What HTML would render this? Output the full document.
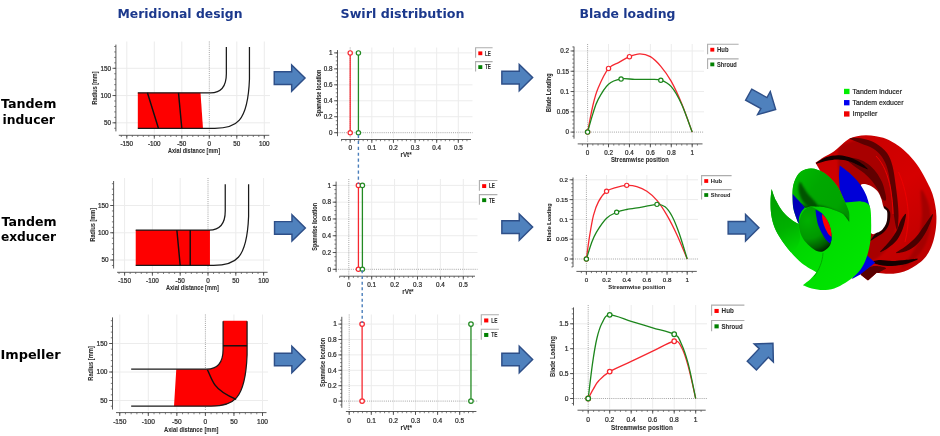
<!DOCTYPE html>
<html lang="en"><head><meta charset="utf-8"><title>Tandem blade design workflow</title>
<style>html,body{margin:0;padding:0;background:#fff}body{width:940px;height:436px;overflow:hidden;position:relative}svg{filter:blur(.35px);position:absolute;left:0;top:0;display:block}text{white-space:pre;font-family:"Liberation Sans","DejaVu Sans",sans-serif;font-size:6.3px;fill:#2b2b2b;text-anchor:middle;stroke:#2b2b2b;stroke-width:.22px}text.h{stroke:none;font-family:"DejaVu Sans","Liberation Sans",sans-serif;font-weight:bold}text.b{font-weight:bold;stroke-width:.05px}text.e{text-anchor:end}text.s{text-anchor:start}</style>
</head><body>
<svg width="940" height="436" viewBox="0 0 940 436">
<rect width="940" height="436" fill="#fff"/>
<text x="180" y="18.4" class="h" style="font-size:12.6px;fill:#1b388c" textLength="125" lengthAdjust="spacingAndGlyphs">Meridional design</text>
<text x="402.5" y="18.4" class="h" style="font-size:12.6px;fill:#1b388c" textLength="124" lengthAdjust="spacingAndGlyphs">Swirl distribution</text>
<text x="627.5" y="18.4" class="h" style="font-size:12.6px;fill:#1b388c" textLength="96" lengthAdjust="spacingAndGlyphs">Blade loading</text>
<text x="28.7" y="108.1" class="h" style="font-size:12.6px;fill:#000" textLength="55.5" lengthAdjust="spacingAndGlyphs">Tandem</text>
<text x="28.7" y="123.5" class="h" style="font-size:12.6px;fill:#000" textLength="52.4" lengthAdjust="spacingAndGlyphs">inducer</text>
<text x="29" y="225.7" class="h" style="font-size:12.6px;fill:#000" textLength="55" lengthAdjust="spacingAndGlyphs">Tandem</text>
<text x="28.5" y="241" class="h" style="font-size:12.6px;fill:#000" textLength="55.1" lengthAdjust="spacingAndGlyphs">exducer</text>
<text x="30.5" y="358.5" class="h" style="font-size:12.6px;fill:#000" textLength="60" lengthAdjust="spacingAndGlyphs">Impeller</text>
<path d="M126.8 41.5 V133.8 M154.3 41.5 V133.8 M181.8 41.5 V133.8 M236.8 41.5 V133.8 M264.3 41.5 V133.8 M115.9 122.8 H270 M115.9 95.55 H270 M115.9 68.3 H270" stroke="#ececec" stroke-width="1" fill="none"/>
<path d="M209.3 41.5 V133.8" stroke="#a4a4a4" stroke-width="1" stroke-dasharray="1 1.1" fill="none"/>
<path d="M115.9 44.6 V131.4 M118.8 135.3 H269.3 M126.8 135.3 v3.4 M154.3 135.3 v3.4 M181.8 135.3 v3.4 M209.3 135.3 v3.4 M236.8 135.3 v3.4 M264.3 135.3 v3.4 M115.9 122.8 h-3.4 M115.9 95.55 h-3.4 M115.9 68.3 h-3.4" stroke="#484848" stroke-width="0.9" fill="none"/>
<path d="M121.3 135.3 v1.7 M126.8 135.3 v1.7 M132.3 135.3 v1.7 M137.8 135.3 v1.7 M143.3 135.3 v1.7 M148.8 135.3 v1.7 M154.3 135.3 v1.7 M159.8 135.3 v1.7 M165.3 135.3 v1.7 M170.8 135.3 v1.7 M176.3 135.3 v1.7 M181.8 135.3 v1.7 M187.3 135.3 v1.7 M192.8 135.3 v1.7 M198.3 135.3 v1.7 M203.8 135.3 v1.7 M209.3 135.3 v1.7 M214.8 135.3 v1.7 M220.3 135.3 v1.7 M225.8 135.3 v1.7 M231.3 135.3 v1.7 M236.8 135.3 v1.7 M242.3 135.3 v1.7 M247.8 135.3 v1.7 M253.3 135.3 v1.7 M258.8 135.3 v1.7 M264.3 135.3 v1.7 M115.9 46.5 h-1.7 M115.9 51.95 h-1.7 M115.9 57.4 h-1.7 M115.9 62.85 h-1.7 M115.9 68.3 h-1.7 M115.9 73.75 h-1.7 M115.9 79.2 h-1.7 M115.9 84.65 h-1.7 M115.9 90.1 h-1.7 M115.9 95.55 h-1.7 M115.9 101 h-1.7 M115.9 106.45 h-1.7 M115.9 111.9 h-1.7 M115.9 117.35 h-1.7 M115.9 122.8 h-1.7 M115.9 128.25 h-1.7" stroke="#484848" stroke-width="0.7" fill="none"/>
<text x="126.8" y="146.2">-150</text>
<text x="154.3" y="146.2">-100</text>
<text x="181.8" y="146.2">-50</text>
<text x="209.3" y="146.2">0</text>
<text x="236.8" y="146.2">50</text>
<text x="264.3" y="146.2">100</text>
<text x="110.9" y="125.07" class="e">50</text>
<text x="110.9" y="97.82" class="e">100</text>
<text x="110.9" y="70.57" class="e">150</text>
<text x="194.05" y="153.2" class="b" textLength="52" lengthAdjust="spacingAndGlyphs">Axial distance [mm]</text>
<text x="97.3" y="88" class="b" transform="rotate(-90 97.3 88)" textLength="33" lengthAdjust="spacingAndGlyphs">Radius [mm]</text>
<path d="M137.8 92.82 L200.5 92.82 L202.98 128.25 L137.8 128.25Z" fill="#fe0000"/>
<path d="M137.8 128.25 L214.8 128.25 C235.7 128.25 247.8 122.8 249.45 79.2 L249.45 47.04 M137.8 92.82 L210.4 92.82 C221.4 92.82 226.35 86.83 226.35 73.75 L226.35 47.04" stroke="#1a1a1a" stroke-width="1.25" fill="none"/>
<path d="M147.43 92.82 L158.43 128.25 M178.5 92.82 L181.8 128.25" stroke="#111" stroke-width="1.45" fill="none"/>
<path d="M124.6 178 V270.8 M152.4 178 V270.8 M180.2 178 V270.8 M235.8 178 V270.8 M263.6 178 V270.8 M113.6 260 H270 M113.6 232.75 H270 M113.6 205.5 H270" stroke="#ececec" stroke-width="1" fill="none"/>
<path d="M208 178 V270.8" stroke="#a4a4a4" stroke-width="1" stroke-dasharray="1 1.1" fill="none"/>
<path d="M113.6 181 V268.5 M117.1 272.3 H267.6 M124.6 272.3 v3.4 M152.4 272.3 v3.4 M180.2 272.3 v3.4 M208 272.3 v3.4 M235.8 272.3 v3.4 M263.6 272.3 v3.4 M113.6 260 h-3.4 M113.6 232.75 h-3.4 M113.6 205.5 h-3.4" stroke="#484848" stroke-width="0.9" fill="none"/>
<path d="M119.04 272.3 v1.7 M124.6 272.3 v1.7 M130.16 272.3 v1.7 M135.72 272.3 v1.7 M141.28 272.3 v1.7 M146.84 272.3 v1.7 M152.4 272.3 v1.7 M157.96 272.3 v1.7 M163.52 272.3 v1.7 M169.08 272.3 v1.7 M174.64 272.3 v1.7 M180.2 272.3 v1.7 M185.76 272.3 v1.7 M191.32 272.3 v1.7 M196.88 272.3 v1.7 M202.44 272.3 v1.7 M208 272.3 v1.7 M213.56 272.3 v1.7 M219.12 272.3 v1.7 M224.68 272.3 v1.7 M230.24 272.3 v1.7 M235.8 272.3 v1.7 M241.36 272.3 v1.7 M246.92 272.3 v1.7 M252.48 272.3 v1.7 M258.04 272.3 v1.7 M263.6 272.3 v1.7 M113.6 183.7 h-1.7 M113.6 189.15 h-1.7 M113.6 194.6 h-1.7 M113.6 200.05 h-1.7 M113.6 205.5 h-1.7 M113.6 210.95 h-1.7 M113.6 216.4 h-1.7 M113.6 221.85 h-1.7 M113.6 227.3 h-1.7 M113.6 232.75 h-1.7 M113.6 238.2 h-1.7 M113.6 243.65 h-1.7 M113.6 249.1 h-1.7 M113.6 254.55 h-1.7 M113.6 260 h-1.7 M113.6 265.45 h-1.7" stroke="#484848" stroke-width="0.7" fill="none"/>
<text x="124.6" y="283.2" style="font-size:6.4px">-150</text>
<text x="152.4" y="283.2" style="font-size:6.4px">-100</text>
<text x="180.2" y="283.2" style="font-size:6.4px">-50</text>
<text x="208" y="283.2" style="font-size:6.4px">0</text>
<text x="235.8" y="283.2" style="font-size:6.4px">50</text>
<text x="263.6" y="283.2" style="font-size:6.4px">100</text>
<text x="108.6" y="262.3" class="e" style="font-size:6.4px">50</text>
<text x="108.6" y="235.05" class="e" style="font-size:6.4px">100</text>
<text x="108.6" y="207.8" class="e" style="font-size:6.4px">150</text>
<text x="192.35" y="290.4" class="b" style="font-size:6.4px" textLength="52.83" lengthAdjust="spacingAndGlyphs">Axial distance [mm]</text>
<text x="95" y="224.75" class="b" style="font-size:6.4px" transform="rotate(-90 95 224.75)" textLength="33.52" lengthAdjust="spacingAndGlyphs">Radius [mm]</text>
<path d="M135.72 230.03 L209.95 230.03 L209.95 265.45 L135.72 265.45Z" fill="#fe0000"/>
<path d="M135.72 265.45 L213.56 265.45 C234.69 265.45 246.92 260 248.59 216.4 L248.59 184.25 M135.72 230.03 L209.11 230.03 C220.23 230.03 225.24 224.03 225.24 210.95 L225.24 184.25" stroke="#1a1a1a" stroke-width="1.25" fill="none"/>
<path d="M176.86 230.03 L180.2 265.45 M190.21 230.03 L190.21 265.45" stroke="#111" stroke-width="1.45" fill="none"/>
<path d="M119.75 314.5 V411.1 M148.3 314.5 V411.1 M176.85 314.5 V411.1 M233.95 314.5 V411.1 M262.5 314.5 V411.1 M112.5 400.5 H268 M112.5 372 H268 M112.5 343.5 H268" stroke="#ececec" stroke-width="1" fill="none"/>
<path d="M205.4 314.5 V411.1" stroke="#a4a4a4" stroke-width="1" stroke-dasharray="1 1.1" fill="none"/>
<path d="M112.5 317.4 V409.5 M116 412.6 H266.5 M119.75 412.6 v3.4 M148.3 412.6 v3.4 M176.85 412.6 v3.4 M205.4 412.6 v3.4 M233.95 412.6 v3.4 M262.5 412.6 v3.4 M112.5 400.5 h-3.4 M112.5 372 h-3.4 M112.5 343.5 h-3.4" stroke="#484848" stroke-width="0.9" fill="none"/>
<path d="M119.75 412.6 v1.7 M125.46 412.6 v1.7 M131.17 412.6 v1.7 M136.88 412.6 v1.7 M142.59 412.6 v1.7 M148.3 412.6 v1.7 M154.01 412.6 v1.7 M159.72 412.6 v1.7 M165.43 412.6 v1.7 M171.14 412.6 v1.7 M176.85 412.6 v1.7 M182.56 412.6 v1.7 M188.27 412.6 v1.7 M193.98 412.6 v1.7 M199.69 412.6 v1.7 M205.4 412.6 v1.7 M211.11 412.6 v1.7 M216.82 412.6 v1.7 M222.53 412.6 v1.7 M228.24 412.6 v1.7 M233.95 412.6 v1.7 M239.66 412.6 v1.7 M245.37 412.6 v1.7 M251.08 412.6 v1.7 M256.79 412.6 v1.7 M262.5 412.6 v1.7 M112.5 320.7 h-1.7 M112.5 326.4 h-1.7 M112.5 332.1 h-1.7 M112.5 337.8 h-1.7 M112.5 343.5 h-1.7 M112.5 349.2 h-1.7 M112.5 354.9 h-1.7 M112.5 360.6 h-1.7 M112.5 366.3 h-1.7 M112.5 372 h-1.7 M112.5 377.7 h-1.7 M112.5 383.4 h-1.7 M112.5 389.1 h-1.7 M112.5 394.8 h-1.7 M112.5 400.5 h-1.7 M112.5 406.2 h-1.7" stroke="#484848" stroke-width="0.7" fill="none"/>
<text x="119.75" y="423.6" style="font-size:6.6px">-150</text>
<text x="148.3" y="423.6" style="font-size:6.6px">-100</text>
<text x="176.85" y="423.6" style="font-size:6.6px">-50</text>
<text x="205.4" y="423.6" style="font-size:6.6px">0</text>
<text x="233.95" y="423.6" style="font-size:6.6px">50</text>
<text x="262.5" y="423.6" style="font-size:6.6px">100</text>
<text x="107.5" y="402.88" class="e" style="font-size:6.6px">50</text>
<text x="107.5" y="374.38" class="e" style="font-size:6.6px">100</text>
<text x="107.5" y="345.88" class="e" style="font-size:6.6px">150</text>
<text x="191.25" y="431.8" class="b" style="font-size:6.6px" textLength="54.48" lengthAdjust="spacingAndGlyphs">Axial distance [mm]</text>
<text x="93" y="363.45" class="b" style="font-size:6.6px" transform="rotate(-90 93 363.45)" textLength="34.57" lengthAdjust="spacingAndGlyphs">Radius [mm]</text>
<path d="M176.28 369.15 L206.54 369.15 C217.96 369.15 223.1 362.88 223.1 349.2 L223.1 320.7 L247.08 320.7 L247.08 354.9 C245.37 400.5 232.81 406.2 211.11 406.2 L174 406.2Z" fill="#fe0000"/>
<path d="M131.17 406.2 L211.11 406.2 C232.81 406.2 245.37 400.5 247.08 354.9 L247.08 321.27 M131.17 369.15 L206.54 369.15 C217.96 369.15 223.1 362.88 223.1 349.2 L223.1 321.27" stroke="#1a1a1a" stroke-width="1.25" fill="none"/>
<path d="M223.1 345.78 H247.08" stroke="#111" stroke-width="1.45" fill="none"/>
<path d="M207.4 369.72 C209.97 374.85 211.68 380.55 215.11 385.11 C219.68 391.38 228.24 395.94 236.23 399.36" stroke="#111" stroke-width="1.45" fill="none"/>
<path d="M371.82 47.5 V138 M393.44 47.5 V138 M415.06 47.5 V138 M436.68 47.5 V138 M458.3 47.5 V138 M337.5 116.74 H472.5 M337.5 100.78 H472.5 M337.5 84.82 H472.5 M337.5 68.86 H472.5 M337.5 52.9 H472.5" stroke="#ececec" stroke-width="1" fill="none"/>
<path d="M350.2 47.5 V138 M337.5 132.7 H472.5" stroke="#a4a4a4" stroke-width="1" stroke-dasharray="1 1.1" fill="none"/>
<path d="M337.5 50.1 V136.2 M341.1 139.5 H471 M350.2 139.5 v3.4 M371.82 139.5 v3.4 M393.44 139.5 v3.4 M415.06 139.5 v3.4 M436.68 139.5 v3.4 M458.3 139.5 v3.4 M337.5 132.7 h-3.4 M337.5 116.74 h-3.4 M337.5 100.78 h-3.4 M337.5 84.82 h-3.4 M337.5 68.86 h-3.4 M337.5 52.9 h-3.4" stroke="#484848" stroke-width="0.9" fill="none"/>
<path d="M341.55 139.5 v1.7 M345.88 139.5 v1.7 M350.2 139.5 v1.7 M354.52 139.5 v1.7 M358.85 139.5 v1.7 M363.17 139.5 v1.7 M367.5 139.5 v1.7 M371.82 139.5 v1.7 M376.14 139.5 v1.7 M380.47 139.5 v1.7 M384.79 139.5 v1.7 M389.12 139.5 v1.7 M393.44 139.5 v1.7 M397.76 139.5 v1.7 M402.09 139.5 v1.7 M406.41 139.5 v1.7 M410.74 139.5 v1.7 M415.06 139.5 v1.7 M419.38 139.5 v1.7 M423.71 139.5 v1.7 M428.03 139.5 v1.7 M432.36 139.5 v1.7 M436.68 139.5 v1.7 M441 139.5 v1.7 M445.33 139.5 v1.7 M449.65 139.5 v1.7 M453.98 139.5 v1.7 M458.3 139.5 v1.7 M462.62 139.5 v1.7 M466.95 139.5 v1.7 M337.5 52.9 h-1.7 M337.5 56.89 h-1.7 M337.5 60.88 h-1.7 M337.5 64.87 h-1.7 M337.5 68.86 h-1.7 M337.5 72.85 h-1.7 M337.5 76.84 h-1.7 M337.5 80.83 h-1.7 M337.5 84.82 h-1.7 M337.5 88.81 h-1.7 M337.5 92.8 h-1.7 M337.5 96.79 h-1.7 M337.5 100.78 h-1.7 M337.5 104.77 h-1.7 M337.5 108.76 h-1.7 M337.5 112.75 h-1.7 M337.5 116.74 h-1.7 M337.5 120.73 h-1.7 M337.5 124.72 h-1.7 M337.5 128.71 h-1.7 M337.5 132.7 h-1.7" stroke="#484848" stroke-width="0.7" fill="none"/>
<text x="350.2" y="150.2">0</text>
<text x="371.82" y="150.2">0.1</text>
<text x="393.44" y="150.2">0.2</text>
<text x="415.06" y="150.2">0.3</text>
<text x="436.68" y="150.2">0.4</text>
<text x="458.3" y="150.2">0.5</text>
<text x="332.5" y="134.97" class="e">0</text>
<text x="332.5" y="119.01" class="e">0.2</text>
<text x="332.5" y="103.05" class="e">0.4</text>
<text x="332.5" y="87.09" class="e">0.6</text>
<text x="332.5" y="71.13" class="e">0.8</text>
<text x="332.5" y="55.17" class="e">1</text>
<text x="406.05" y="156.6" class="b">rVt*</text>
<text x="320.8" y="93.15" class="b" transform="rotate(-90 320.8 93.15)" textLength="47" lengthAdjust="spacingAndGlyphs">Spanwise location</text>
<path d="M350.2 132.7 V52.9" stroke="#f62830" stroke-width="1.3" fill="none"/>
<circle cx="350.2" cy="132.7" r="2.15" fill="#fff" stroke="#f62830" stroke-width="1.2"/>
<circle cx="350.2" cy="52.9" r="2.15" fill="#fff" stroke="#f62830" stroke-width="1.2"/>
<path d="M358.42 132.7 V52.9" stroke="#238a23" stroke-width="1.3" fill="none"/>
<circle cx="358.42" cy="132.7" r="2.15" fill="#fff" stroke="#238a23" stroke-width="1.2"/>
<circle cx="358.42" cy="52.9" r="2.15" fill="#fff" stroke="#238a23" stroke-width="1.2"/>
<path d="M475.6 57.8 V47.8 H492.6" stroke="#adadad" stroke-width="1.1" fill="none"/>
<rect x="478.3" y="51.4" width="4" height="3.8" fill="#ff0000"/>
<text x="485" y="55.6" class="b s" textLength="6" lengthAdjust="spacingAndGlyphs">LE</text>
<path d="M475.6 71.6 V61.6 H492.6" stroke="#adadad" stroke-width="1.1" fill="none"/>
<rect x="478.3" y="65.2" width="4" height="3.8" fill="#008000"/>
<text x="485" y="69.4" class="b s" textLength="6" lengthAdjust="spacingAndGlyphs">TE</text>
<path d="M371.7 179 V274.7 M394.6 179 V274.7 M417.5 179 V274.7 M440.4 179 V274.7 M463.3 179 V274.7 M336.1 252.52 H477.5 M336.1 235.74 H477.5 M336.1 218.96 H477.5 M336.1 202.18 H477.5 M336.1 185.4 H477.5" stroke="#ececec" stroke-width="1" fill="none"/>
<path d="M348.8 179 V274.7 M336.1 269.3 H477.5" stroke="#a4a4a4" stroke-width="1" stroke-dasharray="1 1.1" fill="none"/>
<path d="M336.1 181.6 V272.1 M339.5 276.2 H475 M348.8 276.2 v3.4 M371.7 276.2 v3.4 M394.6 276.2 v3.4 M417.5 276.2 v3.4 M440.4 276.2 v3.4 M463.3 276.2 v3.4 M336.1 269.3 h-3.4 M336.1 252.52 h-3.4 M336.1 235.74 h-3.4 M336.1 218.96 h-3.4 M336.1 202.18 h-3.4 M336.1 185.4 h-3.4" stroke="#484848" stroke-width="0.9" fill="none"/>
<path d="M339.64 276.2 v1.7 M344.22 276.2 v1.7 M348.8 276.2 v1.7 M353.38 276.2 v1.7 M357.96 276.2 v1.7 M362.54 276.2 v1.7 M367.12 276.2 v1.7 M371.7 276.2 v1.7 M376.28 276.2 v1.7 M380.86 276.2 v1.7 M385.44 276.2 v1.7 M390.02 276.2 v1.7 M394.6 276.2 v1.7 M399.18 276.2 v1.7 M403.76 276.2 v1.7 M408.34 276.2 v1.7 M412.92 276.2 v1.7 M417.5 276.2 v1.7 M422.08 276.2 v1.7 M426.66 276.2 v1.7 M431.24 276.2 v1.7 M435.82 276.2 v1.7 M440.4 276.2 v1.7 M444.98 276.2 v1.7 M449.56 276.2 v1.7 M454.14 276.2 v1.7 M458.72 276.2 v1.7 M463.3 276.2 v1.7 M467.88 276.2 v1.7 M472.46 276.2 v1.7 M336.1 185.4 h-1.7 M336.1 189.6 h-1.7 M336.1 193.79 h-1.7 M336.1 197.99 h-1.7 M336.1 202.18 h-1.7 M336.1 206.38 h-1.7 M336.1 210.57 h-1.7 M336.1 214.77 h-1.7 M336.1 218.96 h-1.7 M336.1 223.16 h-1.7 M336.1 227.35 h-1.7 M336.1 231.55 h-1.7 M336.1 235.74 h-1.7 M336.1 239.94 h-1.7 M336.1 244.13 h-1.7 M336.1 248.33 h-1.7 M336.1 252.52 h-1.7 M336.1 256.72 h-1.7 M336.1 260.91 h-1.7 M336.1 265.11 h-1.7 M336.1 269.3 h-1.7" stroke="#484848" stroke-width="0.7" fill="none"/>
<text x="348.8" y="286.6" style="font-size:6.4px">0</text>
<text x="371.7" y="286.6" style="font-size:6.4px">0.1</text>
<text x="394.6" y="286.6" style="font-size:6.4px">0.2</text>
<text x="417.5" y="286.6" style="font-size:6.4px">0.3</text>
<text x="440.4" y="286.6" style="font-size:6.4px">0.4</text>
<text x="463.3" y="286.6" style="font-size:6.4px">0.5</text>
<text x="331.1" y="271.6" class="e" style="font-size:6.4px">0</text>
<text x="331.1" y="254.82" class="e" style="font-size:6.4px">0.2</text>
<text x="331.1" y="238.04" class="e" style="font-size:6.4px">0.4</text>
<text x="331.1" y="221.26" class="e" style="font-size:6.4px">0.6</text>
<text x="331.1" y="204.48" class="e" style="font-size:6.4px">0.8</text>
<text x="331.1" y="187.7" class="e" style="font-size:6.4px">1</text>
<text x="407.85" y="293.7" class="b" style="font-size:6.4px">rVt*</text>
<text x="317.3" y="226.85" class="b" style="font-size:6.4px" transform="rotate(-90 317.3 226.85)" textLength="47.75" lengthAdjust="spacingAndGlyphs">Spanwise location</text>
<path d="M358.42 269.3 V185.4" stroke="#f62830" stroke-width="1.3" fill="none"/>
<circle cx="358.42" cy="269.3" r="2.18" fill="#fff" stroke="#f62830" stroke-width="1.22"/>
<circle cx="358.42" cy="185.4" r="2.18" fill="#fff" stroke="#f62830" stroke-width="1.22"/>
<path d="M362.4 269.3 V185.4" stroke="#238a23" stroke-width="1.3" fill="none"/>
<circle cx="362.4" cy="269.3" r="2.18" fill="#fff" stroke="#238a23" stroke-width="1.22"/>
<circle cx="362.4" cy="185.4" r="2.18" fill="#fff" stroke="#238a23" stroke-width="1.22"/>
<path d="M479.4 190.66 V180.5 H497.4" stroke="#adadad" stroke-width="1.1" fill="none"/>
<rect x="482.14" y="184.16" width="4.06" height="3.86" fill="#ff0000"/>
<text x="488.95" y="188.42" class="b s" style="font-size:6.4px" textLength="6.1" lengthAdjust="spacingAndGlyphs">LE</text>
<path d="M479.4 204.76 V194.6 H497.4" stroke="#adadad" stroke-width="1.1" fill="none"/>
<rect x="482.14" y="198.26" width="4.06" height="3.86" fill="#008000"/>
<text x="488.95" y="202.52" class="b s" style="font-size:6.4px" textLength="6.1" lengthAdjust="spacingAndGlyphs">TE</text>
<path d="M371.3 314.5 V410 M393.4 314.5 V410 M415.5 314.5 V410 M437.6 314.5 V410 M459.7 314.5 V410 M341.8 385.7 H477.5 M341.8 370.3 H477.5 M341.8 354.9 H477.5 M341.8 339.5 H477.5 M341.8 324.1 H477.5" stroke="#ececec" stroke-width="1" fill="none"/>
<path d="M349.2 314.5 V410 M341.8 401.1 H477.5" stroke="#a4a4a4" stroke-width="1" stroke-dasharray="1 1.1" fill="none"/>
<path d="M341.8 316.8 V407.8 M345.9 411.5 H476.4 M349.2 411.5 v3.4 M371.3 411.5 v3.4 M393.4 411.5 v3.4 M415.5 411.5 v3.4 M437.6 411.5 v3.4 M459.7 411.5 v3.4 M341.8 401.1 h-3.4 M341.8 385.7 h-3.4 M341.8 370.3 h-3.4 M341.8 354.9 h-3.4 M341.8 339.5 h-3.4 M341.8 324.1 h-3.4" stroke="#484848" stroke-width="0.9" fill="none"/>
<path d="M349.2 411.5 v1.7 M353.62 411.5 v1.7 M358.04 411.5 v1.7 M362.46 411.5 v1.7 M366.88 411.5 v1.7 M371.3 411.5 v1.7 M375.72 411.5 v1.7 M380.14 411.5 v1.7 M384.56 411.5 v1.7 M388.98 411.5 v1.7 M393.4 411.5 v1.7 M397.82 411.5 v1.7 M402.24 411.5 v1.7 M406.66 411.5 v1.7 M411.08 411.5 v1.7 M415.5 411.5 v1.7 M419.92 411.5 v1.7 M424.34 411.5 v1.7 M428.76 411.5 v1.7 M433.18 411.5 v1.7 M437.6 411.5 v1.7 M442.02 411.5 v1.7 M446.44 411.5 v1.7 M450.86 411.5 v1.7 M455.28 411.5 v1.7 M459.7 411.5 v1.7 M464.12 411.5 v1.7 M468.54 411.5 v1.7 M472.96 411.5 v1.7 M341.8 320.25 h-1.7 M341.8 324.1 h-1.7 M341.8 327.95 h-1.7 M341.8 331.8 h-1.7 M341.8 335.65 h-1.7 M341.8 339.5 h-1.7 M341.8 343.35 h-1.7 M341.8 347.2 h-1.7 M341.8 351.05 h-1.7 M341.8 354.9 h-1.7 M341.8 358.75 h-1.7 M341.8 362.6 h-1.7 M341.8 366.45 h-1.7 M341.8 370.3 h-1.7 M341.8 374.15 h-1.7 M341.8 378 h-1.7 M341.8 381.85 h-1.7 M341.8 385.7 h-1.7 M341.8 389.55 h-1.7 M341.8 393.4 h-1.7 M341.8 397.25 h-1.7 M341.8 401.1 h-1.7 M341.8 404.95 h-1.7" stroke="#484848" stroke-width="0.7" fill="none"/>
<text x="349.2" y="422.6" style="font-size:6.6px">0</text>
<text x="371.3" y="422.6" style="font-size:6.6px">0.1</text>
<text x="393.4" y="422.6" style="font-size:6.6px">0.2</text>
<text x="415.5" y="422.6" style="font-size:6.6px">0.3</text>
<text x="437.6" y="422.6" style="font-size:6.6px">0.4</text>
<text x="459.7" y="422.6" style="font-size:6.6px">0.5</text>
<text x="336.8" y="403.48" class="e" style="font-size:6.6px">0</text>
<text x="336.8" y="388.08" class="e" style="font-size:6.6px">0.2</text>
<text x="336.8" y="372.68" class="e" style="font-size:6.6px">0.4</text>
<text x="336.8" y="357.28" class="e" style="font-size:6.6px">0.6</text>
<text x="336.8" y="341.88" class="e" style="font-size:6.6px">0.8</text>
<text x="336.8" y="326.48" class="e" style="font-size:6.6px">1</text>
<text x="406.25" y="429.8" class="b" style="font-size:6.6px">rVt*</text>
<text x="325.5" y="362.3" class="b" style="font-size:6.6px" transform="rotate(-90 325.5 362.3)" textLength="49.24" lengthAdjust="spacingAndGlyphs">Spanwise location</text>
<path d="M362.11 401.1 V324.1" stroke="#f62830" stroke-width="1.3" fill="none"/>
<circle cx="362.11" cy="401.1" r="2.25" fill="#fff" stroke="#f62830" stroke-width="1.26"/>
<circle cx="362.11" cy="324.1" r="2.25" fill="#fff" stroke="#f62830" stroke-width="1.26"/>
<path d="M470.97 401.1 V324.1" stroke="#238a23" stroke-width="1.3" fill="none"/>
<circle cx="470.97" cy="401.1" r="2.25" fill="#fff" stroke="#238a23" stroke-width="1.26"/>
<circle cx="470.97" cy="324.1" r="2.25" fill="#fff" stroke="#238a23" stroke-width="1.26"/>
<path d="M481.3 325.18 V314.7 H498.9" stroke="#adadad" stroke-width="1.1" fill="none"/>
<rect x="484.13" y="318.47" width="4.19" height="3.98" fill="#ff0000"/>
<text x="491.15" y="322.87" class="b s" style="font-size:6.6px" textLength="6.29" lengthAdjust="spacingAndGlyphs">LE</text>
<path d="M481.3 339.68 V329.2 H498.9" stroke="#adadad" stroke-width="1.1" fill="none"/>
<rect x="484.13" y="332.97" width="4.19" height="3.98" fill="#008000"/>
<text x="491.15" y="337.37" class="b s" style="font-size:6.6px" textLength="6.29" lengthAdjust="spacingAndGlyphs">TE</text>
<path d="M358.4 134.8 V184" stroke="#4a7ebb" stroke-width="1.4" stroke-dasharray="3.2 2.75" fill="none"/>
<path d="M362.2 270.3 V323" stroke="#4a7ebb" stroke-width="1.4" stroke-dasharray="3 2.67" fill="none"/>
<path d="M608.52 44 V142.4 M629.44 44 V142.4 M650.36 44 V142.4 M671.28 44 V142.4 M692.2 44 V142.4 M574 111.82 H704 M574 91.54 H704 M574 71.26 H704 M574 50.98 H704" stroke="#ececec" stroke-width="1" fill="none"/>
<path d="M587.6 44 V142.4 M574 132.1 H704" stroke="#a4a4a4" stroke-width="1" stroke-dasharray="1 1.1" fill="none"/>
<path d="M574 46.6 V138.7 M577.7 143.9 H702.5 M587.6 143.9 v3.4 M608.52 143.9 v3.4 M629.44 143.9 v3.4 M650.36 143.9 v3.4 M671.28 143.9 v3.4 M692.2 143.9 v3.4 M574 132.1 h-3.4 M574 111.82 h-3.4 M574 91.54 h-3.4 M574 71.26 h-3.4 M574 50.98 h-3.4" stroke="#484848" stroke-width="0.9" fill="none"/>
<path d="M582.37 143.9 v1.7 M587.6 143.9 v1.7 M592.83 143.9 v1.7 M598.06 143.9 v1.7 M603.29 143.9 v1.7 M608.52 143.9 v1.7 M613.75 143.9 v1.7 M618.98 143.9 v1.7 M624.21 143.9 v1.7 M629.44 143.9 v1.7 M634.67 143.9 v1.7 M639.9 143.9 v1.7 M645.13 143.9 v1.7 M650.36 143.9 v1.7 M655.59 143.9 v1.7 M660.82 143.9 v1.7 M666.05 143.9 v1.7 M671.28 143.9 v1.7 M676.51 143.9 v1.7 M681.74 143.9 v1.7 M686.97 143.9 v1.7 M692.2 143.9 v1.7 M697.43 143.9 v1.7 M574 46.92 h-1.7 M574 50.98 h-1.7 M574 55.04 h-1.7 M574 59.09 h-1.7 M574 63.15 h-1.7 M574 67.2 h-1.7 M574 71.26 h-1.7 M574 75.32 h-1.7 M574 79.37 h-1.7 M574 83.43 h-1.7 M574 87.48 h-1.7 M574 91.54 h-1.7 M574 95.6 h-1.7 M574 99.65 h-1.7 M574 103.71 h-1.7 M574 107.76 h-1.7 M574 111.82 h-1.7 M574 115.88 h-1.7 M574 119.93 h-1.7 M574 123.99 h-1.7 M574 128.04 h-1.7 M574 132.1 h-1.7 M574 136.16 h-1.7" stroke="#484848" stroke-width="0.7" fill="none"/>
<text x="587.6" y="154.5">0</text>
<text x="608.52" y="154.5">0.2</text>
<text x="629.44" y="154.5">0.4</text>
<text x="650.36" y="154.5">0.6</text>
<text x="671.28" y="154.5">0.8</text>
<text x="692.2" y="154.5">1</text>
<text x="569" y="134.37" class="e">0</text>
<text x="569" y="114.09" class="e">0.05</text>
<text x="569" y="93.81" class="e">0.1</text>
<text x="569" y="73.53" class="e">0.15</text>
<text x="569" y="53.25" class="e">0.2</text>
<text x="639.9" y="161.8" class="b" textLength="58" lengthAdjust="spacingAndGlyphs">Streamwise position</text>
<text x="551.5" y="92.65" class="b" transform="rotate(-90 551.5 92.65)" textLength="38.5" lengthAdjust="spacingAndGlyphs">Blade Loading</text>
<path d="M587.6 132.1 C588.47 127.71 591.09 113.04 592.83 105.74 C594.57 98.44 595.45 94.51 598.06 88.3 C600.68 82.08 605.03 72.75 608.52 68.42 C612.01 64.09 615.49 64.3 618.98 62.34 C622.47 60.38 625.95 58.08 629.44 56.66 C632.93 55.24 636.41 53.82 639.9 53.82 C643.39 53.82 646.87 54.56 650.36 56.66 C653.85 58.75 657.33 62.27 660.82 66.39 C664.31 70.52 667.79 75.18 671.28 81.4 C674.77 87.62 678.25 95.26 681.74 103.71 C685.23 112.16 690.46 127.37 692.2 132.1" stroke="#f62830" stroke-width="1.3" fill="none"/>
<path d="M587.6 132.1 C588.47 129.06 591.09 119.26 592.83 113.85 C594.57 108.44 595.45 104.59 598.06 99.65 C600.68 94.72 604.68 87.69 608.52 84.24 C612.36 80.79 616.71 79.78 621.07 78.97 C625.43 78.16 629.79 79.3 634.67 79.37 C639.55 79.44 646 79.24 650.36 79.37 C654.72 79.51 657.33 78.97 660.82 80.18 C664.31 81.4 667.79 82.62 671.28 86.67 C674.77 90.73 678.25 96.95 681.74 104.52 C685.23 112.09 690.46 127.5 692.2 132.1" stroke="#1c861c" stroke-width="1.3" fill="none"/>
<circle cx="587.6" cy="132.1" r="2.15" fill="#fff" stroke="#f62830" stroke-width="1.2"/>
<circle cx="608.52" cy="68.42" r="2.15" fill="#fff" stroke="#f62830" stroke-width="1.2"/>
<circle cx="629.44" cy="56.66" r="2.15" fill="#fff" stroke="#f62830" stroke-width="1.2"/>
<circle cx="587.6" cy="132.1" r="2.15" fill="#fff" stroke="#1c861c" stroke-width="1.2"/>
<circle cx="621.07" cy="78.97" r="2.15" fill="#fff" stroke="#1c861c" stroke-width="1.2"/>
<circle cx="660.82" cy="80.18" r="2.15" fill="#fff" stroke="#1c861c" stroke-width="1.2"/>
<path d="M707.6 54.2 V44.2 H738.6" stroke="#adadad" stroke-width="1.1" fill="none"/>
<rect x="710.3" y="47.8" width="4" height="3.8" fill="#ff0000"/>
<text x="717" y="52" class="b s" textLength="11.5" lengthAdjust="spacingAndGlyphs">Hub</text>
<path d="M707.6 68.9 V58.9 H738.6" stroke="#adadad" stroke-width="1.1" fill="none"/>
<rect x="710.3" y="62.5" width="4" height="3.8" fill="#008000"/>
<text x="717" y="66.7" class="b s" textLength="19.8" lengthAdjust="spacingAndGlyphs">Shroud</text>
<path d="M606.56 175 V269.9 M626.72 175 V269.9 M646.88 175 V269.9 M667.04 175 V269.9 M687.2 175 V269.9 M573 239.2 H698 M573 219.4 H698 M573 199.6 H698 M573 179.8 H698" stroke="#ececec" stroke-width="1" fill="none"/>
<path d="M586.4 175 V269.9 M573 259 H698" stroke="#a4a4a4" stroke-width="1" stroke-dasharray="1 1.1" fill="none"/>
<path d="M573 177.5 V267 M576.4 271.4 H696.8 M586.4 271.4 v3.4 M606.56 271.4 v3.4 M626.72 271.4 v3.4 M646.88 271.4 v3.4 M667.04 271.4 v3.4 M687.2 271.4 v3.4 M573 259 h-3.4 M573 239.2 h-3.4 M573 219.4 h-3.4 M573 199.6 h-3.4 M573 179.8 h-3.4" stroke="#484848" stroke-width="0.9" fill="none"/>
<path d="M581.36 271.4 v1.7 M586.4 271.4 v1.7 M591.44 271.4 v1.7 M596.48 271.4 v1.7 M601.52 271.4 v1.7 M606.56 271.4 v1.7 M611.6 271.4 v1.7 M616.64 271.4 v1.7 M621.68 271.4 v1.7 M626.72 271.4 v1.7 M631.76 271.4 v1.7 M636.8 271.4 v1.7 M641.84 271.4 v1.7 M646.88 271.4 v1.7 M651.92 271.4 v1.7 M656.96 271.4 v1.7 M662 271.4 v1.7 M667.04 271.4 v1.7 M672.08 271.4 v1.7 M677.12 271.4 v1.7 M682.16 271.4 v1.7 M687.2 271.4 v1.7 M692.24 271.4 v1.7 M573 179.8 h-1.7 M573 183.76 h-1.7 M573 187.72 h-1.7 M573 191.68 h-1.7 M573 195.64 h-1.7 M573 199.6 h-1.7 M573 203.56 h-1.7 M573 207.52 h-1.7 M573 211.48 h-1.7 M573 215.44 h-1.7 M573 219.4 h-1.7 M573 223.36 h-1.7 M573 227.32 h-1.7 M573 231.28 h-1.7 M573 235.24 h-1.7 M573 239.2 h-1.7 M573 243.16 h-1.7 M573 247.12 h-1.7 M573 251.08 h-1.7 M573 255.04 h-1.7 M573 259 h-1.7 M573 262.96 h-1.7 M573 266.92 h-1.7" stroke="#484848" stroke-width="0.7" fill="none"/>
<text x="586.4" y="281.6" style="font-size:6.2px">0</text>
<text x="606.56" y="281.6" style="font-size:6.2px">0.2</text>
<text x="626.72" y="281.6" style="font-size:6.2px">0.4</text>
<text x="646.88" y="281.6" style="font-size:6.2px">0.6</text>
<text x="667.04" y="281.6" style="font-size:6.2px">0.8</text>
<text x="687.2" y="281.6" style="font-size:6.2px">1</text>
<text x="568" y="261.23" class="e" style="font-size:6.2px">0</text>
<text x="568" y="241.43" class="e" style="font-size:6.2px">0.05</text>
<text x="568" y="221.63" class="e" style="font-size:6.2px">0.1</text>
<text x="568" y="201.83" class="e" style="font-size:6.2px">0.15</text>
<text x="568" y="182.03" class="e" style="font-size:6.2px">0.2</text>
<text x="636.8" y="288.8" class="b" style="font-size:6.2px" textLength="57.08" lengthAdjust="spacingAndGlyphs">Streamwise position</text>
<text x="550.5" y="222.25" class="b" style="font-size:6.2px" transform="rotate(-90 550.5 222.25)" textLength="37.89" lengthAdjust="spacingAndGlyphs">Blade Loading</text>
<path d="M586.4 259 C586.9 255.37 588.25 244.48 589.42 237.22 C590.6 229.96 591.94 221.38 593.46 215.44 C594.97 209.5 596.31 205.61 598.5 201.58 C600.68 197.55 603.54 193.66 606.56 191.28 C609.58 188.91 613.28 188.31 616.64 187.32 C620 186.33 623.36 185.48 626.72 185.34 C630.08 185.21 633.44 185.54 636.8 186.53 C640.16 187.52 643.52 188.97 646.88 191.28 C650.24 193.59 653.6 196.37 656.96 200.39 C660.32 204.42 663.68 209.63 667.04 215.44 C670.4 221.25 673.76 227.98 677.12 235.24 C680.48 242.5 685.52 255.04 687.2 259" stroke="#f62830" stroke-width="1.3" fill="none"/>
<path d="M586.4 259 C587.24 256.36 589.76 247.65 591.44 243.16 C593.12 238.67 593.96 236.23 596.48 232.07 C599 227.91 603.2 221.51 606.56 218.21 C609.92 214.91 613.28 213.72 616.64 212.27 C620 210.82 622.52 210.36 626.72 209.5 C630.92 208.64 636.8 207.98 641.84 207.12 C646.88 206.27 653.1 204.42 656.96 204.35 C660.82 204.29 662.5 204.75 665.02 206.73 C667.54 208.71 669.73 211.81 672.08 216.23 C674.43 220.65 676.62 226.13 679.14 233.26 C681.66 240.39 685.86 254.71 687.2 259" stroke="#1c861c" stroke-width="1.3" fill="none"/>
<circle cx="586.4" cy="259" r="2.12" fill="#fff" stroke="#f62830" stroke-width="1.18"/>
<circle cx="606.56" cy="191.28" r="2.12" fill="#fff" stroke="#f62830" stroke-width="1.18"/>
<circle cx="626.72" cy="185.34" r="2.12" fill="#fff" stroke="#f62830" stroke-width="1.18"/>
<circle cx="586.4" cy="259" r="2.12" fill="#fff" stroke="#1c861c" stroke-width="1.18"/>
<circle cx="616.64" cy="212.27" r="2.12" fill="#fff" stroke="#1c861c" stroke-width="1.18"/>
<circle cx="656.96" cy="204.35" r="2.12" fill="#fff" stroke="#1c861c" stroke-width="1.18"/>
<path d="M701.6 185.44 V175.6 H731.6" stroke="#adadad" stroke-width="1.1" fill="none"/>
<rect x="704.26" y="179.14" width="3.94" height="3.74" fill="#ff0000"/>
<text x="710.85" y="183.28" class="b s" style="font-size:6.2px" textLength="11.32" lengthAdjust="spacingAndGlyphs">Hub</text>
<path d="M701.6 199.44 V189.6 H731.6" stroke="#adadad" stroke-width="1.1" fill="none"/>
<rect x="704.26" y="193.14" width="3.94" height="3.74" fill="#008000"/>
<text x="710.85" y="197.28" class="b s" style="font-size:6.2px" textLength="19.49" lengthAdjust="spacingAndGlyphs">Shroud</text>
<path d="M609.7 305 V408.7 M631.2 305 V408.7 M652.7 305 V408.7 M674.2 305 V408.7 M695.7 305 V408.7 M573.5 373.6 H707 M573.5 348.7 H707 M573.5 323.8 H707" stroke="#ececec" stroke-width="1" fill="none"/>
<path d="M588.2 305 V408.7 M573.5 398.5 H707" stroke="#a4a4a4" stroke-width="1" stroke-dasharray="1 1.1" fill="none"/>
<path d="M573.5 307.4 V405.5 M577.5 410.2 H705.7 M588.2 410.2 v3.4 M609.7 410.2 v3.4 M631.2 410.2 v3.4 M652.7 410.2 v3.4 M674.2 410.2 v3.4 M695.7 410.2 v3.4 M573.5 398.5 h-3.4 M573.5 373.6 h-3.4 M573.5 348.7 h-3.4 M573.5 323.8 h-3.4" stroke="#484848" stroke-width="0.9" fill="none"/>
<path d="M582.83 410.2 v1.7 M588.2 410.2 v1.7 M593.58 410.2 v1.7 M598.95 410.2 v1.7 M604.33 410.2 v1.7 M609.7 410.2 v1.7 M615.08 410.2 v1.7 M620.45 410.2 v1.7 M625.83 410.2 v1.7 M631.2 410.2 v1.7 M636.58 410.2 v1.7 M641.95 410.2 v1.7 M647.33 410.2 v1.7 M652.7 410.2 v1.7 M658.08 410.2 v1.7 M663.45 410.2 v1.7 M668.83 410.2 v1.7 M674.2 410.2 v1.7 M679.58 410.2 v1.7 M684.95 410.2 v1.7 M690.33 410.2 v1.7 M695.7 410.2 v1.7 M701.08 410.2 v1.7 M573.5 308.86 h-1.7 M573.5 313.84 h-1.7 M573.5 318.82 h-1.7 M573.5 323.8 h-1.7 M573.5 328.78 h-1.7 M573.5 333.76 h-1.7 M573.5 338.74 h-1.7 M573.5 343.72 h-1.7 M573.5 348.7 h-1.7 M573.5 353.68 h-1.7 M573.5 358.66 h-1.7 M573.5 363.64 h-1.7 M573.5 368.62 h-1.7 M573.5 373.6 h-1.7 M573.5 378.58 h-1.7 M573.5 383.56 h-1.7 M573.5 388.54 h-1.7 M573.5 393.52 h-1.7 M573.5 398.5 h-1.7 M573.5 403.48 h-1.7" stroke="#484848" stroke-width="0.7" fill="none"/>
<text x="588.2" y="422.1" style="font-size:6.7px">0</text>
<text x="609.7" y="422.1" style="font-size:6.7px">0.2</text>
<text x="631.2" y="422.1" style="font-size:6.7px">0.4</text>
<text x="652.7" y="422.1" style="font-size:6.7px">0.6</text>
<text x="674.2" y="422.1" style="font-size:6.7px">0.8</text>
<text x="695.7" y="422.1" style="font-size:6.7px">1</text>
<text x="568.5" y="400.91" class="e" style="font-size:6.7px">0</text>
<text x="568.5" y="376.01" class="e" style="font-size:6.7px">0.5</text>
<text x="568.5" y="351.11" class="e" style="font-size:6.7px">1</text>
<text x="568.5" y="326.21" class="e" style="font-size:6.7px">1.5</text>
<text x="641.95" y="430.4" class="b" style="font-size:6.7px" textLength="61.68" lengthAdjust="spacingAndGlyphs">Streamwise position</text>
<text x="555" y="356.45" class="b" style="font-size:6.7px" transform="rotate(-90 555 356.45)" textLength="40.94" lengthAdjust="spacingAndGlyphs">Blade Loading</text>
<path d="M588.2 398.5 C589.1 396.84 591.78 391.53 593.58 388.54 C595.37 385.55 596.26 383.39 598.95 380.57 C601.64 377.75 604.33 374.8 609.7 371.61 C615.08 368.41 624.03 364.8 631.2 361.4 C638.37 358 645.53 354.55 652.7 351.19 C659.87 347.83 669.36 341.81 674.2 341.23 C679.04 340.65 679.4 343.55 681.73 347.7 C684.05 351.85 685.85 357.66 688.18 366.13 C690.5 374.6 694.45 393.11 695.7 398.5" stroke="#f62830" stroke-width="1.3" fill="none"/>
<path d="M588.2 398.5 C588.92 392.69 591.07 373.6 592.5 363.64 C593.93 353.68 595.19 345.55 596.8 338.74 C598.41 331.93 600.03 326.79 602.18 322.8 C604.33 318.82 604.86 315.09 609.7 314.84 C614.54 314.59 624.03 319.15 631.2 321.31 C638.37 323.47 645.53 325.63 652.7 327.78 C659.87 329.94 669.54 331.85 674.2 334.26 C678.86 336.66 678.32 337.33 680.65 342.23 C682.98 347.12 685.67 354.26 688.18 363.64 C690.68 373.02 694.45 392.69 695.7 398.5" stroke="#1c861c" stroke-width="1.3" fill="none"/>
<circle cx="588.2" cy="398.5" r="2.29" fill="#fff" stroke="#f62830" stroke-width="1.28"/>
<circle cx="609.7" cy="371.61" r="2.29" fill="#fff" stroke="#f62830" stroke-width="1.28"/>
<circle cx="674.2" cy="341.23" r="2.29" fill="#fff" stroke="#f62830" stroke-width="1.28"/>
<circle cx="588.2" cy="398.5" r="2.29" fill="#fff" stroke="#1c861c" stroke-width="1.28"/>
<circle cx="609.7" cy="314.84" r="2.29" fill="#fff" stroke="#1c861c" stroke-width="1.28"/>
<circle cx="674.2" cy="334.26" r="2.29" fill="#fff" stroke="#1c861c" stroke-width="1.28"/>
<path d="M711.6 315.73 V305.1 H744.4" stroke="#adadad" stroke-width="1.1" fill="none"/>
<rect x="714.47" y="308.93" width="4.25" height="4.04" fill="#ff0000"/>
<text x="721.6" y="313.4" class="b s" style="font-size:6.7px" textLength="12.23" lengthAdjust="spacingAndGlyphs">Hub</text>
<path d="M711.6 331.13 V320.5 H744.4" stroke="#adadad" stroke-width="1.1" fill="none"/>
<rect x="714.47" y="324.33" width="4.25" height="4.04" fill="#008000"/>
<text x="721.6" y="328.8" class="b s" style="font-size:6.7px" textLength="21.06" lengthAdjust="spacingAndGlyphs">Shroud</text>
<path d="M-15.55 -6.3 L1.85 -6.3 L1.85 -13.2 L15.25 0 L1.85 13.2 L1.85 6.3 L-15.55 6.3Z" transform="translate(289.8 78.1) rotate(0)" fill="#4f81bd" stroke="#2e4f88" stroke-width="1.45" stroke-linejoin="miter"/>
<path d="M-15.55 -6.3 L1.85 -6.3 L1.85 -13.2 L15.25 0 L1.85 13.2 L1.85 6.3 L-15.55 6.3Z" transform="translate(517.4 77.6) rotate(0)" fill="#4f81bd" stroke="#2e4f88" stroke-width="1.45" stroke-linejoin="miter"/>
<path d="M-15.55 -6.3 L1.85 -6.3 L1.85 -13.2 L15.25 0 L1.85 13.2 L1.85 6.3 L-15.55 6.3Z" transform="translate(290.1 227.9) rotate(0)" fill="#4f81bd" stroke="#2e4f88" stroke-width="1.45" stroke-linejoin="miter"/>
<path d="M-15.55 -6.3 L1.85 -6.3 L1.85 -13.2 L15.25 0 L1.85 13.2 L1.85 6.3 L-15.55 6.3Z" transform="translate(517.4 227.1) rotate(0)" fill="#4f81bd" stroke="#2e4f88" stroke-width="1.45" stroke-linejoin="miter"/>
<path d="M-15.55 -6.3 L1.85 -6.3 L1.85 -13.2 L15.25 0 L1.85 13.2 L1.85 6.3 L-15.55 6.3Z" transform="translate(743.7 227.7) rotate(0)" fill="#4f81bd" stroke="#2e4f88" stroke-width="1.45" stroke-linejoin="miter"/>
<path d="M-15.55 -6.3 L1.85 -6.3 L1.85 -13.2 L15.25 0 L1.85 13.2 L1.85 6.3 L-15.55 6.3Z" transform="translate(290 359.5) rotate(0)" fill="#4f81bd" stroke="#2e4f88" stroke-width="1.45" stroke-linejoin="miter"/>
<path d="M-15.55 -6.3 L1.85 -6.3 L1.85 -13.2 L15.25 0 L1.85 13.2 L1.85 6.3 L-15.55 6.3Z" transform="translate(517.4 359.5) rotate(0)" fill="#4f81bd" stroke="#2e4f88" stroke-width="1.45" stroke-linejoin="miter"/>
<path d="M-15.55 -6.3 L1.85 -6.3 L1.85 -13.2 L15.25 0 L1.85 13.2 L1.85 6.3 L-15.55 6.3Z" transform="translate(762.3 102.2) rotate(28.8)" fill="#4f81bd" stroke="#2e4f88" stroke-width="1.45" stroke-linejoin="miter"/>
<path d="M-15.55 -6.3 L1.85 -6.3 L1.85 -13.2 L15.25 0 L1.85 13.2 L1.85 6.3 L-15.55 6.3Z" transform="translate(762.5 354.3) rotate(-46.7)" fill="#4f81bd" stroke="#2e4f88" stroke-width="1.45" stroke-linejoin="miter"/>
<rect x="844" y="88.8" width="5.5" height="5.3" fill="#00ee00"/>
<text x="852.6" y="93.8" class="s" style="font-size:7.2px;fill:#1a1a1a" textLength="49.4" lengthAdjust="spacingAndGlyphs">Tandem inducer</text>
<rect x="844" y="100.05" width="5.5" height="5.3" fill="#0000f0"/>
<text x="852.6" y="105.05" class="s" style="font-size:7.2px;fill:#1a1a1a" textLength="50.9" lengthAdjust="spacingAndGlyphs">Tandem exducer</text>
<rect x="844" y="111.3" width="5.5" height="5.3" fill="#f00000"/>
<text x="852.6" y="116.3" class="s" style="font-size:7.2px;fill:#1a1a1a" textLength="24.8" lengthAdjust="spacingAndGlyphs">Impeller</text>
<defs>
<linearGradient id="gR" gradientUnits="userSpaceOnUse" x1="840" y1="140" x2="930" y2="270"><stop offset="0" stop-color="#c80000"/><stop offset="0.45" stop-color="#d60000"/><stop offset="1" stop-color="#b80000"/></linearGradient>
<linearGradient id="gG" gradientUnits="userSpaceOnUse" x1="780" y1="200" x2="870" y2="280"><stop offset="0" stop-color="#00c400"/><stop offset="0.5" stop-color="#00dc00"/><stop offset="1" stop-color="#00e800"/></linearGradient>
<linearGradient id="gT" gradientUnits="userSpaceOnUse" x1="796" y1="175" x2="846" y2="215"><stop offset="0" stop-color="#00b800"/><stop offset="0.35" stop-color="#00a800"/><stop offset="0.8" stop-color="#00a400"/><stop offset="1" stop-color="#009000"/></linearGradient>
<linearGradient id="gC" gradientUnits="userSpaceOnUse" x1="772" y1="190" x2="800" y2="250"><stop offset="0" stop-color="#009c00"/><stop offset="0.6" stop-color="#00b000"/><stop offset="1" stop-color="#00d800"/></linearGradient>
<radialGradient id="gH" gradientUnits="userSpaceOnUse" cx="808" cy="220" r="34"><stop offset="0" stop-color="#00b000"/><stop offset="0.55" stop-color="#009800"/><stop offset="0.85" stop-color="#005c00"/><stop offset="1" stop-color="#002800"/></radialGradient>
<filter id="bl" x="-20%" y="-20%" width="140%" height="140%"><feGaussianBlur stdDeviation="1.1"/></filter>
<filter id="bs" x="-20%" y="-20%" width="140%" height="140%"><feGaussianBlur stdDeviation="0.6"/></filter>
<clipPath id="cR"><path d="M815.5 162.8C816.9 161.8 821 158.9 824 157C827 155.1 830.8 153.5 833.8 151.4C836.8 149.3 839.4 146.6 842 144.5C844.6 142.4 846.7 140.2 849.2 138.8C851.7 137.4 854.2 136.8 857 136.2C859.8 135.6 862.8 135.3 866 135.3C869.2 135.3 872.7 135.7 876 136.3C879.3 136.9 882.2 137.3 885.9 138.8C889.6 140.3 894.2 142.8 898 145.5C901.8 148.2 905.3 151.1 908.8 154.8C912.3 158.5 915.9 162.9 919 167.5C922.1 172.1 925 177.9 927.2 182.3C929.5 186.7 931.2 190.2 932.5 194C933.8 197.8 934.6 201.6 935.2 205.3C935.9 209 936.3 212.4 936.4 216C936.5 219.6 936.4 223.2 936 227C935.6 230.8 934.9 234.9 934 238.5C933.1 242.1 931.9 245.6 930.6 248.6C929.3 251.6 927.7 254.2 926 256.5C924.3 258.8 922.5 260.5 920.3 262.3C918 264.1 915.2 266 912.5 267.5C909.8 269 907.1 270.5 904.2 271.5C901.3 272.5 898 273.1 895 273.5C892 273.9 887.4 273.8 885.9 273.8L876.7 272.7L868 280.6L860.7 274.8L850 256L838 200L822 174Z"/></clipPath>
</defs>
<g id="model">
<path d="M815.5 162.8C816.9 161.8 821 158.9 824 157C827 155.1 830.8 153.5 833.8 151.4C836.8 149.3 839.4 146.6 842 144.5C844.6 142.4 846.7 140.2 849.2 138.8C851.7 137.4 854.2 136.8 857 136.2C859.8 135.6 862.8 135.3 866 135.3C869.2 135.3 872.7 135.7 876 136.3C879.3 136.9 882.2 137.3 885.9 138.8C889.6 140.3 894.2 142.8 898 145.5C901.8 148.2 905.3 151.1 908.8 154.8C912.3 158.5 915.9 162.9 919 167.5C922.1 172.1 925 177.9 927.2 182.3C929.5 186.7 931.2 190.2 932.5 194C933.8 197.8 934.6 201.6 935.2 205.3C935.9 209 936.3 212.4 936.4 216C936.5 219.6 936.4 223.2 936 227C935.6 230.8 934.9 234.9 934 238.5C933.1 242.1 931.9 245.6 930.6 248.6C929.3 251.6 927.7 254.2 926 256.5C924.3 258.8 922.5 260.5 920.3 262.3C918 264.1 915.2 266 912.5 267.5C909.8 269 907.1 270.5 904.2 271.5C901.3 272.5 898 273.1 895 273.5C892 273.9 887.4 273.8 885.9 273.8L876.7 272.7L868 280.6L860.7 274.8L850 256L838 200L822 174Z" fill="url(#gR)"/>
<g clip-path="url(#cR)">
<path d="M838 152C839.3 142.3 845.7 143.8 850 142C854.3 140.2 859.7 140.3 864 141C868.3 141.7 872.3 143.7 876 146C879.7 148.3 883.5 151.5 886 155C888.5 158.5 889.7 162.2 891 167C892.3 171.8 893.2 178.5 894 184C894.8 189.5 895.5 194.7 896 200C896.5 205.3 897.2 210.7 897 216C896.8 221.3 896.3 227 895 232C893.7 237 891.5 242 889 246C886.5 250 883.5 253.3 880 256C876.5 258.7 872 261.7 868 262C864 262.3 859.3 261.7 856 258C852.7 254.3 850.3 249.7 848 240C845.7 230.3 843.7 214.7 842 200C840.3 185.3 836.7 161.7 838 152Z" fill="#a80000" filter="url(#bl)"/>
<path d="M849.3 138.2C849.6 137.4 858.5 137.9 863 138.8C867.5 139.7 872 141.1 876 143.5C880 145.9 884.2 149.2 887 153C889.8 156.8 891.1 160.8 892.5 166C893.9 171.2 894.7 178.3 895.5 184C896.3 189.7 897 194.7 897.5 200C898 205.3 898.6 211 898.5 216C898.4 221 897.8 230 897 230C896.2 230 894.8 221 894 216C893.2 211 893.1 205.2 892.5 200C891.9 194.8 891.3 190.2 890.5 185C889.7 179.8 888.9 173.7 887.5 169C886.1 164.3 884.4 160.4 882 157C879.6 153.6 876.5 150.8 873 148.5C869.5 146.2 865 145.2 861 143.5C857 141.8 849 139 849.3 138.2Z" fill="#5c0000" filter="url(#bs)"/>
<path d="M846 158C846.7 156.8 854.3 158 858 159C861.7 160 865 161.8 868 164C871 166.2 873.7 169 876 172C878.3 175 880.5 178.7 882 182C883.5 185.3 884.3 189 885 192C885.7 195 886.5 198.8 886 200C885.5 201.2 883.3 200.7 882 199C880.7 197.3 879.7 193 878 190C876.3 187 874.3 183.8 872 181C869.7 178.2 867 175.5 864 173C861 170.5 857 168.5 854 166C851 163.5 845.3 159.2 846 158Z" fill="#600000" filter="url(#bs)"/>
<path d="M815.6 163.7C815.4 163.1 822.1 158.7 826 157.3C829.9 155.9 834.6 155.1 838.9 155.2C843.2 155.3 847.7 156.5 851.7 158.1C855.7 159.7 860.3 162.6 863 164.5C865.7 166.4 868.1 169 867.8 169.3C867.5 169.6 864 167.8 861 166.5C858 165.2 853.8 162.7 850 161.5C846.2 160.3 841.8 159.6 838 159.5C834.2 159.4 830.7 160.1 827 160.8C823.3 161.5 815.8 164.3 815.6 163.7Z" fill="#120000" filter="url(#bs)"/>
<path d="M876 156 C884 164 888 176 890.5 188 C892 198 893 206 893 214" stroke="#f40000" stroke-width="0.9" fill="none" filter="url(#bs)"/>
<path d="M898.5 172 C904 184 907 198 908.2 212 C908.6 222 907.5 232 905 242" stroke="#ee0000" stroke-width="0.9" fill="none" filter="url(#bs)"/>
<path d="M921 190C922 188 926.3 197 928 202C929.7 207 931 214 931 220C931 226 929.7 232.7 928 238C926.3 243.3 923.8 248 921 252C918.2 256 914.3 259.3 911 262C907.7 264.7 901.3 268.7 901 268C900.7 267.3 906.5 261.7 909 258C911.5 254.3 914.2 250.3 916 246C917.8 241.7 919 237.3 920 232C921 226.7 921.8 221 922 214C922.2 207 920 192 921 190Z" fill="#a40000" filter="url(#bl)"/>
<path d="M884 206C884.8 205.7 889.2 209 890 212C890.8 215 890 220.7 889 224C888 227.3 886.3 229.7 884 232C881.7 234.3 877.3 236.5 875 238C872.7 239.5 869.8 241.8 870 241C870.2 240.2 873.8 235.7 876 233C878.2 230.3 881.5 228.2 883 225C884.5 221.8 884.8 217.2 885 214C885.2 210.8 883.2 206.3 884 206Z" fill="#200000" filter="url(#bs)"/>
<path d="M906 214C906.3 215.3 904.5 223.7 903 228C901.5 232.3 899.5 236.7 897 240C894.5 243.3 890.8 246 888 248C885.2 250 880 252.8 880 252C880 251.2 885.3 246.3 888 243C890.7 239.7 893.8 235.8 896 232C898.2 228.2 899.3 223 901 220C902.7 217 905.7 212.7 906 214Z" fill="#380000" filter="url(#bs)"/>
<path d="M933 214C933.7 214.3 930.2 223.5 928 228C925.8 232.5 923.2 237.3 920 241C916.8 244.7 913 248 909 250C905 252 896.5 253.7 896 253C895.5 252.3 902.7 248.7 906 246C909.3 243.3 913 240.3 916 237C919 233.7 921.2 229.8 924 226C926.8 222.2 932.3 213.7 933 214Z" fill="#480000" filter="url(#bs)"/>
<path d="M918 259C918.2 259.7 910.3 262.8 906 264C901.7 265.2 896.3 265.8 892 266C887.7 266.2 883.3 265.7 880 265C876.7 264.3 872 262.8 872 262C872 261.2 876.7 260.2 880 260C883.3 259.8 887.8 261 892 261C896.2 261 900.7 260.3 905 260C909.3 259.7 917.8 258.3 918 259Z" fill="#160000" filter="url(#bs)"/>
<path d="M860.7 274.8C860.7 272.7 865.5 269.5 868 268C870.5 266.5 873 266 876 266C879 266 885.3 267 886 268C886.7 269 883 269.9 880 272C877 274.1 871.2 280.1 868 280.6C864.8 281.1 860.7 276.9 860.7 274.8Z" fill="#5a0000" filter="url(#bs)"/>
</g>
<path d="M860.9 185C861.4 183.9 864.2 184 866.1 184.3C868 184.7 870.5 185.8 872.5 187.1C874.5 188.4 876.6 189.9 878.1 191.9C879.6 193.9 880.6 196.8 881.4 199.1C882.2 201.4 882.5 203.9 883 205.5C883.5 207.1 883.9 207.9 884.6 208.8C885.3 209.8 886.5 209.9 887 211.2C887.5 212.5 887.4 214.8 887.3 216.8C887.2 218.8 887.1 221 886.2 223.2C885.4 225.3 883.7 228.1 882.2 229.7C880.7 231.3 879 231.9 877.3 232.6C875.5 233.3 873.2 235 871.7 233.7C870.2 232.4 869 228.9 868.5 225C868 221.1 868.9 214.2 868.5 210C868.1 205.8 866.9 203.2 866 200C865.1 196.8 863.9 193.5 863 191C862.1 188.5 860.4 186.1 860.9 185Z" fill="#fff"/>
<path d="M839.7 165.6C841.4 166.9 846.8 170.5 850.1 173.6C853.5 176.7 857.1 180.4 859.8 184C862.5 187.6 864.5 191.3 866.2 195.3C867.9 199.3 869.5 206 870.2 208.2L866 205L845.3 204L839.7 188.9L838.9 176Z" fill="#0000d8"/>
<path d="M867.2 255.5 L875.2 262.7 L859.9 274.8 L852 279 L858 262Z" fill="#0000e0"/>
<path d="M771.6 188.9C771.4 190.8 770.7 196.3 770.6 200.6C770.5 204.8 770.5 209.8 771.2 214.4C771.9 219 773.1 223.8 774.8 228C776.5 232.2 778.5 235.4 781.2 239.5C783.9 243.6 787.4 248.3 790.9 252.3C794.4 256.3 797.8 260.1 802.1 263.5C806.4 266.9 814.2 270.9 816.6 272.4L810.1 279.6C808.9 280.5 804.1 284.3 802.9 285.2L802.9 285.2C804.4 285.7 808.4 287.6 811.8 288.4C815.1 289.2 819.3 290 823 290C826.7 290 830.5 289.6 834.2 288.4C838 287.2 842 284.9 845.5 282.8C849 280.7 852.3 278.3 855.1 275.6C857.9 272.9 860.3 270.2 862.3 266.8C864.3 263.4 865.9 259.8 867.2 255.5C868.6 251.2 869.7 246.2 870.4 241.1C871.1 236 871.2 230.4 871.2 225C871.2 219.6 871.1 212.5 870.4 208.8C869.7 205.2 868.7 204.4 866.9 203.1C865.1 201.8 860.8 201.5 859.6 201.2L845.3 202.5L845.3 202.5C844.3 200.4 841.1 193.3 839.5 190.2C837.9 187.1 837.2 186.2 835.6 184.1C834 182 832.1 179.7 830 177.7C827.9 175.7 825.1 173.6 823 172.3C820.9 171 819.2 170.3 817.3 169.7C815.4 169.1 813.4 168.7 811.5 168.6C809.6 168.5 807.6 168.7 805.9 169.2C804.1 169.7 802.5 170.5 801 171.6C799.5 172.7 798.1 174.3 797 176C795.9 177.7 795.1 179.6 794.4 181.5C793.7 183.4 793.2 185.4 792.9 187.5C792.6 189.6 792.6 192.8 792.5 193.8L792.5 193.8C792.6 196.1 792.6 203.6 793.2 207.5C793.8 211.4 795.1 214.4 796 217.2C796.9 219.9 798.2 222.9 798.7 224L798.7 224C797.7 223.4 795.1 222.7 792.5 220.6C789.9 218.5 785.6 215 782.9 211.7C780.1 208.4 777.9 204.4 776 200.6C774.1 196.8 772.3 190.8 771.6 188.9Z" fill="url(#gG)"/>
<path d="M771.6 188.9C771.4 190.8 770.7 196.3 770.6 200.6C770.5 204.8 770.5 209.8 771.2 214.4C771.9 219 773.1 223.8 774.8 228C776.5 232.2 778.5 235.4 781.2 239.5C783.9 243.6 789.3 250.2 790.9 252.3L790.9 252.3C791.9 251.4 795.5 249.4 797 247C798.5 244.6 799.7 241.2 800 238C800.3 234.8 799.1 230.3 798.9 228C798.7 225.7 798.7 224.7 798.7 224L798.7 224C797.7 223.4 795.1 222.7 792.5 220.6C789.9 218.5 785.6 215 782.9 211.7C780.1 208.4 777.9 204.4 776 200.6C774.1 196.8 772.3 190.8 771.6 188.9Z" fill="url(#gC)"/>
<clipPath id="cT"><path d="M792.5 193.8C792.6 192.8 792.6 189.6 792.9 187.5C793.2 185.4 793.7 183.4 794.4 181.5C795.1 179.6 795.9 177.7 797 176C798.1 174.3 799.5 172.7 801 171.6C802.5 170.5 804.1 169.7 805.9 169.2C807.6 168.7 809.6 168.5 811.5 168.6C813.4 168.7 815.4 169.1 817.3 169.7C819.2 170.3 820.9 171 823 172.3C825.1 173.6 827.9 175.7 830 177.7C832.1 179.7 834 182 835.6 184.1C837.2 186.2 837.9 187.1 839.5 190.2C841.1 193.3 844.3 200.4 845.3 202.5L845.3 202.5C845.9 204.1 848.3 208.8 849 212C849.7 215.2 849.2 220.2 849.3 221.8L849.3 221.8C848.2 220.5 845.5 216 843 214C840.5 212 836.8 211.1 834 210C831.2 208.9 828.7 208.1 826 207.5C823.3 206.9 819.3 206.7 818 206.5L818 206.5C816.8 206.4 813.2 206 811 206.2C808.8 206.4 806.9 208.4 804.9 207.5C802.9 206.6 800.8 202.9 798.7 200.6C796.6 198.3 793.5 194.9 792.5 193.8Z"/></clipPath>
<path d="M792.5 193.8C792.6 192.8 792.6 189.6 792.9 187.5C793.2 185.4 793.7 183.4 794.4 181.5C795.1 179.6 795.9 177.7 797 176C798.1 174.3 799.5 172.7 801 171.6C802.5 170.5 804.1 169.7 805.9 169.2C807.6 168.7 809.6 168.5 811.5 168.6C813.4 168.7 815.4 169.1 817.3 169.7C819.2 170.3 820.9 171 823 172.3C825.1 173.6 827.9 175.7 830 177.7C832.1 179.7 834 182 835.6 184.1C837.2 186.2 837.9 187.1 839.5 190.2C841.1 193.3 844.3 200.4 845.3 202.5L845.3 202.5C845.9 204.1 848.3 208.8 849 212C849.7 215.2 849.2 220.2 849.3 221.8L849.3 221.8C848.2 220.5 845.5 216 843 214C840.5 212 836.8 211.1 834 210C831.2 208.9 828.7 208.1 826 207.5C823.3 206.9 819.3 206.7 818 206.5L818 206.5C816.8 206.4 813.2 206 811 206.2C808.8 206.4 806.9 208.4 804.9 207.5C802.9 206.6 800.8 202.9 798.7 200.6C796.6 198.3 793.5 194.9 792.5 193.8Z" fill="url(#gT)"/>
<g clip-path="url(#cT)">
<path d="M796 203C797.5 202.4 802.3 205.1 806 205.5C809.7 205.9 814 204.7 818 205.2C822 205.7 826.2 207.1 830 208.5C833.8 209.9 838 211.8 841 213.5C844 215.2 846.2 216.9 848 219C849.8 221.1 852.3 224.8 852 226C851.7 227.2 848.3 227 846 226C843.7 225 841 221.8 838 220C835 218.2 831.7 216.3 828 215C824.3 213.7 820 212.5 816 212C812 211.5 807.2 212.5 804 212C800.8 211.5 798.3 210.5 797 209C795.7 207.5 794.5 203.6 796 203Z" fill="#005400" filter="url(#bl)"/>
<path d="M800 182C800.8 181.7 802.2 185 803.5 187C804.8 189 805.8 191.1 808 194C810.2 196.9 816.3 202.2 817 204.5C817.7 206.8 814 208.1 812 208C810 207.9 806.9 205.8 805 204C803.1 202.2 801.6 199.5 800.5 197C799.4 194.5 798.6 191.5 798.5 189C798.4 186.5 799.2 182.3 800 182Z" fill="#004c00" filter="url(#bl)" opacity="0.9"/>
</g>
<path d="M792.5 193.8C793.5 194.9 796.6 198.3 798.7 200.6C800.8 202.9 803.9 206.3 804.9 207.5L804.9 207.5C804.3 208.2 802.5 209.9 801.5 211.5C800.5 213.1 799.7 214.9 799.2 217C798.7 219.1 798.8 222.8 798.7 224L798.7 224C798.2 222.9 796.9 219.9 796 217.2C795.1 214.4 793.8 211.4 793.2 207.5C792.6 203.6 792.6 196.1 792.5 193.8Z" fill="#0000b8"/>
<path d="M798.9 225.3C798.8 221.9 800 218.2 801 215.6C802 212.9 803.5 210.9 805.1 209.4C806.7 207.9 808.9 206.8 810.6 206.7C812.3 206.6 813.7 207.8 815.5 208.8C817.3 209.8 819.4 210.6 821.6 212.9C823.8 215.2 826.9 219.1 828.5 222.5C830.1 225.9 830.8 230.5 831.3 233.5C831.8 236.5 831.6 238.2 831.3 240.4C830.9 242.6 830.6 244.8 829.2 246.6C827.8 248.4 825.2 250.7 823 251.4C820.8 252.1 818.6 251.8 816.1 250.7C813.6 249.5 810.3 246.9 807.9 244.5C805.5 242.1 803.2 239.5 801.7 236.3C800.2 233.1 799 228.8 798.9 225.3Z" fill="url(#gH)"/>
<path d="M815.5 209.4C816.5 210 819.9 211.4 821.6 212.9C823.4 214.4 824.7 216.3 826 218.5C827.3 220.7 828.6 223.4 829.5 226C830.4 228.6 831 231.7 831.3 234C831.6 236.3 831.7 238.5 831.5 240C831.3 241.5 830.2 242.7 829.9 243.2L829.9 243.2C829.2 242.6 827.4 241.4 826 239.7C824.6 238 822.9 235.2 821.6 232.8C820.3 230.4 819.1 227.9 818.2 225.3C817.3 222.7 816.9 219.7 816.4 217C815.9 214.3 815.6 210.7 815.5 209.4Z" fill="#0000d0"/>
<path d="M821.9 214C822.7 214.8 825.2 217.1 826.5 219.1C827.8 221.1 829.1 223.8 829.9 226C830.7 228.2 831 230.4 831.3 232.2C831.6 234 831.5 236.2 831.6 237L831.6 237C831.1 236.5 829.6 235.7 828.5 234.2C827.4 232.7 826.1 230.2 825.1 228C824.1 225.8 823.3 223.4 822.8 221.1C822.3 218.8 822 215.2 821.9 214Z" fill="#ff0000"/>
<path d="M823 253 C822.5 262 819 270 814 276.5" stroke="#00a400" stroke-width="0.9" fill="none"/>
</g>
</svg></body></html>
